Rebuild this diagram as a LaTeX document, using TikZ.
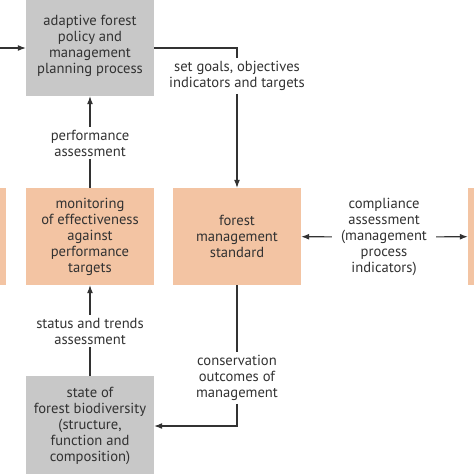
\documentclass[tikz,border=0pt]{standalone}
\usepackage{fontspec}
\setmainfont{PT Sans}
\usetikzlibrary{arrows.meta}
\definecolor{boxgray}{RGB}{200,200,200}
\definecolor{boxsalmon}{RGB}{243,196,163}
\definecolor{ink}{RGB}{50,50,50}
\begin{document}
\begin{tikzpicture}[x=1pt,y=1pt,
  font=\fontsize{14.6}{16}\selectfont, text=ink,
  box/.style={minimum width=128pt, minimum height=97pt, align=center, inner sep=0pt},
  lbl/.style={align=center, inner sep=3pt},
  flow/.style={draw=ink, line width=1.1pt, -{Latex[length=8pt,width=6pt]}},
  plain/.style={draw=ink, line width=1.1pt}]
\useasboundingbox (0,0) rectangle (474,-474);
\clip (0,0) rectangle (474,-474);
% boxes
\node[box, fill=boxgray, minimum height=100pt] (adaptive) at (90,-46) {adaptive forest\\policy and\\management\\planning process};
\node[box, fill=boxsalmon] (monitor) at (90,-236.5) {monitoring\\of effectiveness\\against\\performance\\targets};
\node[box, fill=boxsalmon] (standard) at (237,-236.5) {forest\\management\\standard};
\node[box, fill=boxsalmon] (leftbox) at (-58,-236.5) {};
\node[box, fill=boxsalmon] (rightbox) at (532,-236.5) {};
\node[box, fill=boxgray, minimum height=100pt] (biodiv) at (90,-426) {state of\\forest biodiversity\\(structure,\\function and\\composition)};
% labels
\node[lbl] (goals) at (237,-76) {set goals, objectives\\indicators and targets};
\node[lbl] (perf) at (90,-143) {performance\\assessment};
\node[lbl, inner xsep=9pt] (comp) at (384,-237) {compliance\\assessment\\(management\\process\\indicators)};
\node[lbl] (status) at (90,-331) {status and trends\\assessment};
\node[lbl] (cons) at (237,-378) {conservation\\outcomes of\\management};
\coordinate (inlet) at (0,-48);
% connectors
\draw[flow] (inlet) -- (inlet -| adaptive.west);
\draw[plain] (adaptive.east |- inlet) -| (goals.north);
\draw[flow] (goals) -- (standard);
\draw[plain] (monitor) -- (perf);
\draw[flow] (perf) -- (adaptive);
\draw[plain] (biodiv) -- (status);
\draw[flow] (status) -- (monitor);
\draw[plain] (standard) -- (cons);
\draw[flow] (cons) |- (biodiv);
\draw[flow] (comp) -- (standard);
\draw[flow] (comp) -- (rightbox);
\end{tikzpicture}
\end{document}
